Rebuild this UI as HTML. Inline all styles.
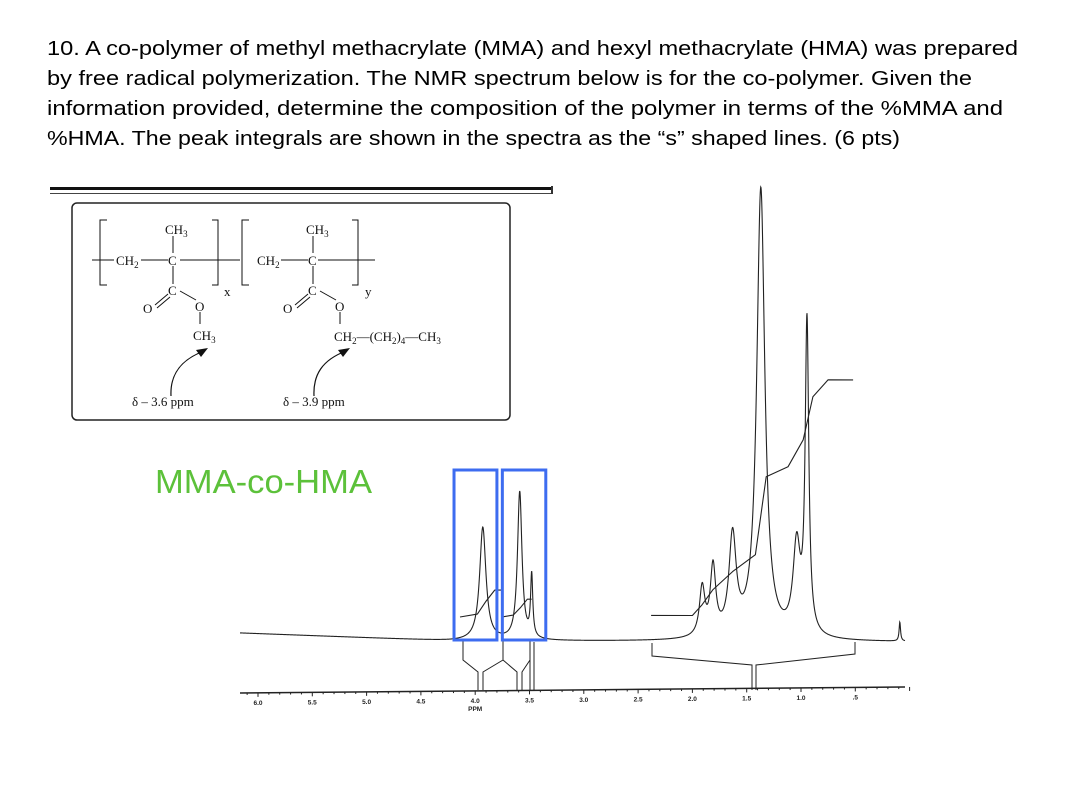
<!DOCTYPE html>
<html><head><meta charset="utf-8"><style>
html,body{margin:0;padding:0;background:#fff;}
svg{display:block;}
.t{font-family:"Liberation Sans",sans-serif;font-size:20.5px;fill:#000;}
.s{font-family:"Liberation Serif",serif;font-size:13px;fill:#111;}
.sub{font-size:9px;}
.ax{font-family:"Liberation Sans",sans-serif;font-size:6.5px;font-weight:bold;fill:#222;}
</style></head><body>
<svg id="pg" width="1078" height="788" viewBox="0 0 1078 788">
<g>
<text class="t" x="47" y="55" textLength="971" lengthAdjust="spacingAndGlyphs">10. A co-polymer of methyl methacrylate (MMA) and hexyl methacrylate (HMA) was prepared</text>
<text class="t" x="47" y="85" textLength="925" lengthAdjust="spacingAndGlyphs">by free radical polymerization. The NMR spectrum below is for the co-polymer.  Given the</text>
<text class="t" x="47" y="115" textLength="956" lengthAdjust="spacingAndGlyphs">information provided, determine the composition of the polymer in terms of the %MMA and</text>
<text class="t" x="47" y="145" textLength="853" lengthAdjust="spacingAndGlyphs">%HMA.  The peak integrals are shown in the spectra as the “s” shaped lines. (6 pts)</text>
</g>
<g>
<rect x="50" y="187" width="502" height="3" fill="#111"/>
<rect x="50" y="193" width="502" height="1" fill="#444"/>
<rect x="551" y="186" width="2" height="8" fill="#333"/>
</g>
<g>
<rect x="72" y="203" width="438" height="217" rx="5" fill="#fff" stroke="#222" stroke-width="1.5"/>
<g stroke="#111" stroke-width="1" fill="none">
<line x1="92" y1="260" x2="114" y2="260"/><line x1="141" y1="260" x2="168" y2="260"/><line x1="180" y1="260" x2="240" y2="260"/>
<polyline points="107,220 100,220 100,285 107,285"/><polyline points="212,220 218,220 218,285 212,285"/>
<line x1="173" y1="236" x2="173" y2="253"/><line x1="173" y1="266" x2="173" y2="284"/>
<line x1="155" y1="305" x2="168" y2="294"/><line x1="157" y1="308" x2="170" y2="297"/><line x1="180" y1="291" x2="196" y2="300"/>
<line x1="200" y1="312" x2="200" y2="324"/>
<line x1="281" y1="260" x2="308" y2="260"/><line x1="318" y1="260" x2="375" y2="260"/>
<polyline points="249,220 242,220 242,285 249,285"/><polyline points="352,220 358,220 358,285 352,285"/>
<line x1="313" y1="236" x2="313" y2="253"/><line x1="313" y1="266" x2="313" y2="284"/>
<line x1="295" y1="305" x2="308" y2="294"/><line x1="297" y1="308" x2="310" y2="297"/><line x1="320" y1="291" x2="336" y2="300"/>
<line x1="340" y1="312" x2="340" y2="324"/>
<path d="M171,396 C170,375 180,360 204,351" stroke-width="1.2"/>
<path d="M314,396 C313,375 322,360 346,351" stroke-width="1.2"/>
</g>
<polygon points="208,348 196,350 201,357" fill="#111"/>
<polygon points="350,348 338,350 343,357" fill="#111"/>
<text class="s" x="165" y="234">CH<tspan class="sub" dy="3">3</tspan></text>
<text class="s" x="116" y="265">CH<tspan class="sub" dy="3">2</tspan></text>
<text class="s" x="168" y="265">C</text>
<text class="s" x="168" y="295">C</text>
<text class="s" x="143" y="313">O</text>
<text class="s" x="195" y="311">O</text>
<text class="s" x="224" y="296">x</text>
<text class="s" x="193" y="340">CH<tspan class="sub" dy="3">3</tspan></text>
<text class="s" x="306" y="234">CH<tspan class="sub" dy="3">3</tspan></text>
<text class="s" x="257" y="265">CH<tspan class="sub" dy="3">2</tspan></text>
<text class="s" x="308" y="265">C</text>
<text class="s" x="308" y="295">C</text>
<text class="s" x="283" y="313">O</text>
<text class="s" x="335" y="311">O</text>
<text class="s" x="365" y="296">y</text>
<text class="s" x="334" y="341">CH<tspan class="sub" dy="3">2</tspan><tspan dy="-3">—(CH</tspan><tspan class="sub" dy="3">2</tspan><tspan dy="-3">)</tspan><tspan class="sub" dy="3">4</tspan><tspan dy="-3">—CH</tspan><tspan class="sub" dy="3">3</tspan></text>
<text class="s" x="132" y="406">δ – 3.6 ppm</text>
<text class="s" x="283" y="406">δ – 3.9 ppm</text>
</g>
<text x="155" y="493" font-family="Liberation Sans, sans-serif" font-size="33" fill="#5cc13a" textLength="217" lengthAdjust="spacingAndGlyphs">MMA-co-HMA</text>
<g id="spec"></g>
</svg>
<script>
const tickLabels=["6.0","5.5","5.0","4.5","4.0","3.5","3.0","2.5","2.0","1.5","1.0",".5"];
const tickPpm=[6.0,5.5,5.0,4.5,4.0,3.5,3.0,2.5,2.0,1.5,1.0,0.5];
const peakPpm=[3.93,3.59,3.48,1.91,1.81,1.63,1.37,1.04,0.945,0.09];
const peakHeight=[113,148,62,48,68,98,450,88,310,19];
const peakWidth=[0.035,0.025,0.012,0.03,0.03,0.04,0.045,0.04,0.02,0.008];
const integral1Ppm=[4.14,3.98,3.90,3.82,3.76];
const integral1Val=[24,27,40,51,51];
const integral2Ppm=[3.76,3.65,3.58,3.52,3.48];
const integral2Val=[24,26,34,42,42];
const integral3Ppm=[2.38,2.00,1.91,1.81,1.63,1.42,1.32,1.12,0.98,0.89,0.75,0.52];
const integral3Val=[26,26,37,52,70,87,165,175,202,245,262,262];
const boxRanges=[[4.195,3.80],[3.75,3.35]];

const NS="http://www.w3.org/2000/svg";
const g=document.getElementById('spec');
function X(p){return 258+(6-p)*108.6;}
function P(x){return 6-(x-258)/108.6;}
function base(x){return x<450?633+(x-240)*8/210:641+(x-450)*1/450;}
function Y(x,v){return base(x)-v;}
function mk(tag,attrs){const e=document.createElementNS(NS,tag);for(const k in attrs)e.setAttribute(k,attrs[k]);g.appendChild(e);return e;}
let d="";
for(let x=240;x<=905;x+=0.25){const p=P(x);let v=0;
 for(let i=0;i<peakPpm.length;i++){const w=peakWidth[i];const u=(p-peakPpm[i])/w;v+=peakHeight[i]/(1+u*u);}
 d+=(x===240?"M":"L")+x.toFixed(2)+","+Y(x,v).toFixed(2);}
const tr=mk('path',{d:d,fill:"none",stroke:"#222","stroke-width":"1.1"});


function integ(ps,vs,name){let s="";for(let i=0;i<ps.length;i++){const x=X(ps[i]);s+=(i?" L":"M")+x.toFixed(1)+","+Y(x,vs[i]).toFixed(1);}
 const e=mk('path',{d:s,fill:"none",stroke:"#222","stroke-width":"1.1","stroke-linejoin":"round"});
 
 }
integ(integral1Ppm,integral1Val,'integral-hma');
integ(integral2Ppm,integral2Val,'integral-mma');
integ(integral3Ppm,integral3Val,'integral-alkyl');
const br=mk('path',{d:"M463,641 V660 L478,672 V690 M483,690 V672 L503,660 V641 M503,660 L517,672 V690 M522,690 V672 L530,660 V641 M530,642 V690 M534,690 V642 M652,643 V656 L752,665 V690 M756,690 V665 L855,654 V642",fill:"none",stroke:"#222","stroke-width":"1"});


const ax=mk('line',{x1:240,y1:693,x2:905,y2:687,stroke:"#222","stroke-width":"1.5"});


for(let p=6.1;p>=0.0;p-=0.1){const x=X(p);const y=693-(x-240)*6/665;const big=Math.abs(p*2-Math.round(p*2))<0.01;
 const t=mk('line',{x1:x,y1:y,x2:x,y2:y+(big?4:2),stroke:"#222","stroke-width":"1"});
 
 }
for(let i=0;i<tickLabels.length;i++){const x=X(tickPpm[i]);const y=705-(x-240)*6/665;
 const t=mk('text',{x:x,y:y,"text-anchor":"middle",class:"ax"});t.textContent=tickLabels[i];
 
 }
const pl=mk('text',{x:X(4.0),y:711,"text-anchor":"middle",class:"ax"});pl.textContent="PPM";


for(let i=0;i<boxRanges.length;i++){const x1=X(boxRanges[i][0]),x2=X(boxRanges[i][1]);
 const r=mk('rect',{x:x1,y:470,width:x2-x1,height:170,fill:"none",stroke:"#3d6cf0","stroke-width":"3"});
 
 }
</script>
</body></html>
